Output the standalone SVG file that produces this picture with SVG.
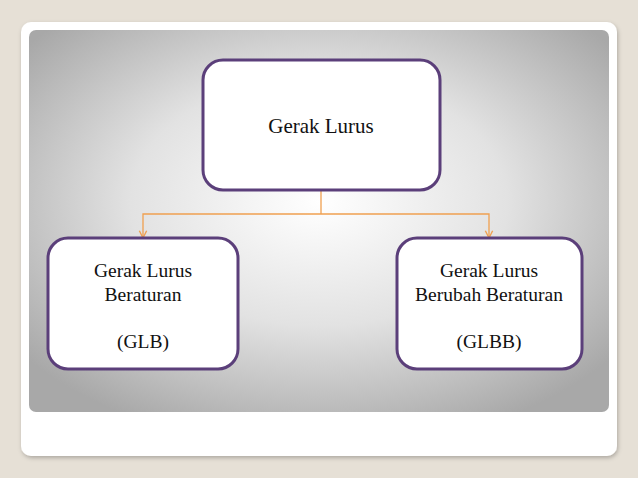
<svg xmlns="http://www.w3.org/2000/svg" width="638" height="478" viewBox="0 0 638 478">
<defs>
<radialGradient id="bg" cx="0.5" cy="0.45" r="0.65">
<stop offset="0" stop-color="#ffffff"/><stop offset="0.5" stop-color="#e2e2e2"/><stop offset="1" stop-color="#a8a8a8"/>
</radialGradient>
<marker id="ar" viewBox="0 0 10 10" refX="9" refY="5" markerWidth="7" markerHeight="7" orient="auto"><path d="M1,1 L9,5 L1,9" fill="none" stroke="#f0a050" stroke-width="1.5"/></marker>
<filter id="sh" x="-5%" y="-5%" width="110%" height="110%"><feDropShadow dx="1" dy="2" stdDeviation="2" flood-color="#000" flood-opacity="0.25"/></filter>
</defs>
<style>
.box{fill:#fff;stroke:#5b3f7a;stroke-width:3}
.t{font-family:"Liberation Serif",serif;font-size:19.5px;fill:#111;text-anchor:middle}
.big{font-size:21px}
.c{fill:none;stroke:#f0a050;stroke-width:1.3}
</style>
<rect width="638" height="478" fill="#e6e0d6"/>
<rect x="21" y="22" width="596" height="434" rx="10" fill="#fff" filter="url(#sh)"/>
<rect x="29" y="30" width="580" height="382" rx="7" fill="url(#bg)"/>
<g id="connectors">
<path class="c" d="M321,190 V214"/>
<path class="c" d="M321,214 H143 V238" marker-end="url(#ar)"/>
<path class="c" d="M321,214 H489 V238" marker-end="url(#ar)"/>
</g>
<g id="root"><rect class="box" x="203" y="60" width="237" height="130" rx="20"/><text class="t big" x="321" y="133">Gerak Lurus</text></g>
<g id="glb"><rect class="box" x="48" y="238" width="190" height="131" rx="20"/>
<text class="t" x="143" y="277">Gerak Lurus</text><text class="t" x="143" y="301">Beraturan</text><text class="t" x="143" y="348">(GLB)</text></g>
<g id="glbb"><rect class="box" x="397" y="238" width="185" height="131" rx="20"/>
<text class="t" x="489" y="277">Gerak Lurus</text><text class="t" x="489" y="301">Berubah Beraturan</text><text class="t" x="489" y="348">(GLBB)</text></g>
</svg>
